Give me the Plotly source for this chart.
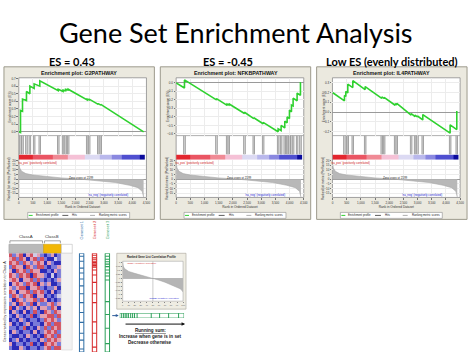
import plotly.graph_objects as go

W, H = 474, 355

# ---------------- data ----------------
title_text = "Gene Set Enrichment Analysis"
panel_labels = ["ES = 0.43", "ES = -0.45", "Low ES (evenly distributed)"]
panel_titles = ["Enrichment plot: G2PATHWAY", "Enrichment plot: NFKBPATHWAY", "Enrichment plot: IL4PATHWAY"]

es1_rank = [0, 60, 60, 130, 130, 270, 270, 390, 390, 540, 540, 740, 740, 1390, 1390, 1560, 1560, 1650, 1650,
            1740, 1740, 2410, 2410, 2480, 2480, 2800, 2800, 2890, 2890, 4400]
es1_val = [0.0, -0.01, 0.28, 0.27, 0.43, 0.41, 0.53, 0.50, 0.60, 0.57, 0.63, 0.60, 0.67, 0.54, 0.56, 0.53, 0.55,
           0.54, 0.56, 0.55, 0.56, 0.42, 0.43, 0.42, 0.43, 0.36, 0.37, 0.35, 0.36, 0.0]
hits1 = [60, 130, 270, 390, 540, 740, 1390, 1560, 1650, 1740, 2410, 2480, 2800, 2890]

es2_rank = [0, 294, 294, 1422, 1422, 1798, 1798, 1857, 1857, 2409, 2409, 2738, 2738, 3067, 3067, 3596, 3596,
            3701, 3701, 3830, 3830, 3913, 3913, 3995, 3995, 4066, 4066, 4124, 4124, 4265, 4265, 4383, 4383, 4400]
es2_val = [0.0, -0.06, 0.035, -0.2, -0.185, -0.265, -0.25, -0.26, -0.245, -0.36, -0.345, -0.42, -0.41, -0.48,
           -0.465, -0.575, -0.54, -0.56, -0.50, -0.53, -0.45, -0.47, -0.40, -0.42, -0.32, -0.34, -0.26, -0.27,
           -0.18, -0.21, -0.12, -0.145, 0.0, 0.0]
hits2 = [294, 1422, 1798, 1857, 2409, 2738, 3067, 3596, 3701, 3830, 3913, 3995, 4066, 4124, 4265, 4383]

es3_rank = [0, 423, 423, 470, 470, 540, 540, 717, 717, 1152, 1152, 1739, 1739, 1821, 1821, 2209, 2209, 2268,
            2268, 2773, 2773, 2914, 2914, 2996, 2996, 3184, 3184, 4148, 4148, 4383, 4383]
es3_val = [0.20, 0.115, 0.17, 0.16, 0.21, 0.195, 0.285, 0.25, 0.32, 0.23, 0.26, 0.14, 0.155, 0.14, 0.15, 0.07,
           0.085, 0.075, 0.09, -0.03, -0.015, -0.045, -0.03, -0.05, -0.04, -0.08, -0.025, -0.215, -0.13, -0.178, 0.01]
hits3 = [423, 470, 540, 717, 1152, 1739, 1821, 2209, 2268, 2773, 2914, 2996, 3184, 4148, 4383]

es_ticks = [[0.0, 0.1, 0.2, 0.3, 0.4, 0.5, 0.6, 0.7],
            [0.0, -0.1, -0.2, -0.3, -0.4, -0.5, -0.6],
            [0.3, 0.2, 0.1, 0.0, -0.1, -0.2]]

metric_rank = [0, 30, 100, 250, 500, 1000, 1500, 2199, 2800, 3400, 3900, 4200, 4350, 4400]
metric_val = [18, 12, 8.5, 6, 4.5, 2.8, 1.4, 0, -1.5, -3.5, -6.5, -9, -13, -19]
metric_ticks = [20, 15, 10, 5, 0, -5, -10, -15]

rank_ticks = [0, 500, 1000, 1500, 2000, 2500, 3000, 3500, 4000, 4500]
rank_labels = ["0", "500", "1,000", "1,500", "2,000", "2,500", "3,000", "3,500", "4,000", "4,500"]

bar_edges = [0, 505, 1210, 1739, 2327, 2855, 3267, 3619, 4265, 4450]
bar_colors = ['#e3262f', '#ea5563', '#f08a95', '#f5c1d6', '#dcdaf3', '#b9b8ec', '#8a88e0', '#4f4fd0', '#0b0b9c']

# hand-read expression heatmap (-2 blue .. 2 red); 10 ClassA columns + 5 ClassB columns
heat_grid = [
    [2, -1, 1, 2, -2, 1, 2, 0, 1, -1, -2, -1, 1, -2, -1],
    [1, 2, -1, 2, 1, -2, 1, 2, -1, 2, -1, -2, -2, 0, -1],
    [2, 1, 2, -1, 2, 1, -1, 1, 2, 1, -2, 1, -1, -2, -2],
    [-1, 2, 1, 1, -2, 2, 1, -1, 2, 2, -1, -2, -1, -1, 1],
    [1, -2, 2, 1, 2, -1, 2, 1, 1, -2, -2, -1, -2, 1, -1],
    [2, 1, -1, 2, 1, 2, -2, 2, 1, 1, -1, -2, 0, -2, -1],
    [1, 2, 1, -2, 1, 1, 2, -1, 2, -1, -2, -1, -2, -1, 1],
    [-2, 1, 2, 1, -1, 2, 1, 2, -2, 1, -1, 1, -2, -2, -1],
    [1, -1, 1, 2, 2, -2, 1, 1, 2, -1, -2, -1, -1, 1, -2],
    [2, 1, -2, 1, 1, 2, -1, 2, 1, 2, -1, -2, 1, -2, -1],
    [-1, 2, 1, -1, 2, 1, 2, -2, 1, 1, -2, -1, -2, -1, 0],
    [1, -2, 2, 1, -1, 1, 1, 2, -1, 2, 1, -2, -1, -2, -1],
    [-1, 1, -2, 2, 1, -1, 2, -2, 1, -1, -1, 1, 2, -1, 1],
    [2, -2, 1, -1, -2, 1, -1, 1, -2, 1, 1, -1, 2, 1, -2],
    [-2, 1, -1, -2, 1, -2, -1, 2, -1, -2, 2, 1, -1, 2, 1],
    [-1, -2, 1, -1, -2, -1, 2, -2, -1, 1, 1, 2, 2, -1, 2],
    [-2, -1, -2, 1, -1, -2, -1, -1, -2, -1, 2, 1, 2, 1, -1],
    [1, -2, -1, -2, -1, 1, -2, -1, -1, -2, 1, 2, -1, 2, 2],
    [-1, -1, -2, -1, 2, -2, -1, -2, 1, -1, 2, -1, 2, 1, 2],
    [-2, 1, -1, -2, -1, -1, -2, 1, -2, -1, 1, 2, 1, 2, -1],
    [-1, -2, -2, -1, -2, 1, -1, -2, -1, -2, 2, 1, 2, -1, 2],
    [-2, -1, 1, -2, -1, -2, -1, -1, -2, 1, -1, 2, 1, 2, 1],
    [1, -2, -1, -1, -2, -1, 2, -2, -1, -2, 2, 1, 2, 1, -1],
    [-1, -2, -2, 1, -1, -2, -1, -1, -2, -1, 1, 2, -1, 2, 2],
]
class_labels = ["ClassA", "ClassB"]

geneset_names = ["Geneset 1", "Geneset 2", "Geneset 3"]
geneset_colors = ['#2e6da4', '#d62728', '#2ca05a']
geneset_hits = [
    [3, 8, 15, 20, 26, 33, 41, 50, 60, 70, 81, 88, 97],
    [2, 4.5, 6, 8, 9.5, 11, 12.5, 14, 17, 22, 29.5, 41, 50, 69.5, 81, 95],
    [3, 6, 8.5, 11, 13.5, 17, 20, 23, 27, 49, 62, 76, 91.5],
]

mini_x = [0, 1, 3, 6, 10, 20, 30, 40, 50, 60, 70, 80, 90, 95, 98, 100]
mini_val = [1.0, 0.75, 0.6, 0.5, 0.42, 0.3, 0.2, 0.1, 0.0, -0.12, -0.25, -0.4, -0.55, -0.65, -0.75, -0.85]

running_sum_text = ["Running sum:", "Increase when gene is in set", "Decrease otherwise"]

# ---------------- helpers ----------------
SLIDE_FONT = "Lato"
PLOT_FONT = "Liberation Sans"


def px(x):
    return x / W


def py(y):
    return 1 - y / H


fig = go.Figure()
axes = {}
shapes = []
anns = []
count = [0]


def new_axes(x0, x1, y0, y1, xcfg=None, ycfg=None):
    count[0] += 1
    s = '' if count[0] == 1 else str(count[0])
    base = dict(showgrid=False, zeroline=False, showticklabels=False, ticks='', showline=False, fixedrange=True)
    xc = dict(base, domain=[px(x0), px(x1)], anchor='y' + s)
    yc = dict(base, domain=[py(y1), py(y0)], anchor='x' + s)
    if xcfg:
        xc.update(xcfg)
    if ycfg:
        yc.update(ycfg)
    axes['xaxis' + s] = xc
    axes['yaxis' + s] = yc
    return 'x' + s, 'y' + s


def rect(x0, y0, x1, y1, fill, line='rgba(0,0,0,0)', lw=1):
    shapes.append(dict(type='rect', xref='paper', yref='paper', x0=px(x0), x1=px(x1), y0=py(y1), y1=py(y0),
                       fillcolor=fill, line=dict(color=line, width=lw), layer='below'))


def hline(x0, x1, y, color, lw=1):
    shapes.append(dict(type='line', xref='paper', yref='paper', x0=px(x0), x1=px(x1), y0=py(y), y1=py(y),
                       line=dict(color=color, width=lw), layer='below'))


def text(x, y, t, size, color='#000', bold=False, family=PLOT_FONT, xanchor='center', angle=0):
    if bold:
        t = '<b>' + t + '</b>'
    anns.append(dict(x=px(x), y=py(y), xref='paper', yref='paper', text=t, showarrow=False,
                     font=dict(size=size, color=color, family=family), xanchor=xanchor, yanchor='middle',
                     textangle=angle))


def segs(positions, a, b, vertical=True):
    xs, ys = [], []
    for p in positions:
        if vertical:
            xs += [p, p, None]
            ys += [a, b, None]
        else:
            xs += [a, b, None]
            ys += [p, p, None]
    return xs, ys


# ---------------- title ----------------
text(237, 31.5, title_text, 27, '#000', family=SLIDE_FONT)

# ---------------- three GSEA panels ----------------
frame_left = [3, 161, 319]
plot_left = [18, 177, 335]
es_data = [(es1_rank, es1_val, hits1), (es2_rank, es2_val, hits2), (es3_rank, es3_val, hits3)]
es_ranges = [[-0.05, 0.71], [-0.62, 0.06], [-0.24, 0.35]]
label_x = [72, 229, 395]

for i in range(3):
    fl = frame_left[i]
    pl = plot_left[i]
    pr = pl + 129
    rect(fl, 66, fl + 152, 219, '#ebe9df', '#9d9a8c', 1)
    rect(pl, 77, pr, 197, '#ffffff', '#8c8c8c', 0.8)
    hline(pl, pr, 135, '#9a9a9a', 0.8)
    text(label_x[i], 61, panel_labels[i], 11, '#000', bold=True, family=SLIDE_FONT)
    text(fl + 76, 72.3, panel_titles[i], 5.3, '#111', bold=True)
    text(pl - 9, 106, "Enrichment score (ES)", 3.1, '#333', angle=-90)
    text(pl - 9, 178, "Ranked list metric (PreRanked)", 3.1, '#333', angle=-90)

    rk, vals, hits = es_data[i]
    # ES
    xa, ya = new_axes(pl, pr, 77, 135,
                      dict(range=[0, 4500], showgrid=True, gridcolor='#ececec', gridwidth=0.5, tickvals=rank_ticks),
                      dict(range=es_ranges[i], tickvals=es_ticks[i], tickformat='.1f', showticklabels=True,
                           tickfont=dict(size=3.1, color='#333', family=PLOT_FONT), ticks='outside', ticklen=1.5,
                           tickcolor='#777', showgrid=True, gridcolor='#ececec', gridwidth=0.5,
                           zeroline=True, zerolinecolor='#9a9a9a', zerolinewidth=0.8))
    fig.add_trace(go.Scatter(x=rk, y=vals, mode='lines', line=dict(color='#2fd12f', width=1.6),
                             xaxis=xa, yaxis=ya, hoverinfo='skip'))
    # hits
    xa, ya = new_axes(pl, pr, 135, 154, dict(range=[0, 4500]), dict(range=[0, 1]))
    hx, hy = segs(hits, 0.0, 1.0)
    fig.add_trace(go.Scatter(x=hx, y=hy, mode='lines', line=dict(color='#8a8a8a', width=2.4),
                             xaxis=xa, yaxis=ya, hoverinfo='skip'))
    fig.add_trace(go.Scatter(x=hx, y=hy, mode='lines', line=dict(color='#c9c9c9', width=1.2),
                             xaxis=xa, yaxis=ya, hoverinfo='skip'))
    # colour bar
    xa, ya = new_axes(pl, pr, 154, 159.5, dict(range=[0, 4500]), dict(range=[0, 1]))
    n = len(bar_colors)
    cscale = [[k / (n - 1), c] for k, c in enumerate(bar_colors)]
    fig.add_trace(go.Heatmap(x=bar_edges, y=[0, 1], z=[list(range(n))], zmin=0, zmax=n - 1,
                             colorscale=cscale, showscale=False, xaxis=xa, yaxis=ya, hoverinfo='skip'))
    # ranked list metric
    xa, ya = new_axes(pl, pr, 159.5, 197,
                      dict(range=[0, 4500], tickvals=rank_ticks, ticktext=rank_labels, showticklabels=True,
                           tickfont=dict(size=3, color='#333', family=PLOT_FONT), ticks='outside', ticklen=1.5,
                           tickcolor='#777', showgrid=True, gridcolor='#ececec', gridwidth=0.5,
                           title=dict(text="Rank in Ordered Dataset", font=dict(size=3.2, color='#333',
                                                                                 family=PLOT_FONT), standoff=1)),
                      dict(range=[-19.5, 20.5], tickvals=metric_ticks, showticklabels=True,
                           tickfont=dict(size=3, color='#333', family=PLOT_FONT), ticks='outside', ticklen=1.5,
                           tickcolor='#777', showgrid=True, gridcolor='#ececec', gridwidth=0.5,
                           zeroline=True, zerolinecolor='#9a9a9a', zerolinewidth=0.6))
    fig.add_trace(go.Scatter(x=metric_rank, y=metric_val, mode='lines', fill='tozeroy', fillcolor='#b8b8b8',
                             line=dict(color='#a8a8a8', width=0.6), xaxis=xa, yaxis=ya, hoverinfo='skip'))
    anns.append(dict(x=650, y=17, xref=xa, yref=ya, text="'na_pos' (positively correlated)", showarrow=False,
                     font=dict(size=2.9, color='#d02020', family=PLOT_FONT)))
    anns.append(dict(x=2199, y=1.8, xref=xa, yref=ya, text="Zero cross at 2199", showarrow=False,
                     font=dict(size=2.9, color='#222', family=PLOT_FONT)))
    anns.append(dict(x=3150, y=-16.5, xref=xa, yref=ya, text="'na_neg' (negatively correlated)",
                     showarrow=False, font=dict(size=2.9, color='#2020d0', family=PLOT_FONT)))

    # legend box
    rect(fl + 24, 212, fl + 127, 218, '#ffffff', '#8c8c8c', 0.6)
    hline(fl + 25, fl + 29, 215, '#2fd12f', 1)
    text(fl + 30, 215, "Enrichment profile", 2.8, '#222', xanchor='left')
    hline(fl + 59, fl + 65, 215, '#333', 0.8)
    text(fl + 67, 215, "Hits", 2.8, '#222', xanchor='left')
    hline(fl + 87, fl + 92, 215, '#999', 0.8)
    text(fl + 94, 215, "Ranking metric scores", 2.8, '#222', xanchor='left')

# ---------------- bottom-left diagram ----------------
rect(8, 244, 43, 253, '#b9b9b9', '#9a9a9a', 0.5)
rect(43, 244, 61, 253, '#f2b705', '#c89a00', 0.5)
rect(61, 244, 72, 253, '#ffffff', '#b0b0b0', 0.5)
rect(61, 253, 72, 350, '#f2f2f2', '#cfcfcf', 0.5)
text(25.5, 236, class_labels[0], 4.3, '#333')
text(52, 236, class_labels[1], 4.3, '#333')
for a, b in [(9, 42), (44, 60)]:
    hline(a, b, 240.5, '#666', 0.6)
    for e in (a, b):
        shapes.append(dict(type='line', xref='paper', yref='paper', x0=px(e), x1=px(e), y0=py(240.5),
                           y1=py(243), line=dict(color='#666', width=0.6)))
text(4, 301, "Genes ranked by expression correlation to Class A", 3.6, '#333', angle=-90)

xa, ya = new_axes(8, 61, 253, 350, dict(range=[-0.5, 14.5]), dict(range=[23.5, -0.5]))
fig.add_trace(go.Heatmap(z=heat_grid, zmin=-2, zmax=2, showscale=False, xaxis=xa, yaxis=ya, hoverinfo='skip',
                         colorscale=[[0, '#2b2bb8'], [0.25, '#7a7ad8'], [0.5, '#cfcbe8'], [0.75, '#e2a0b2'],
                                     [1, '#d2505e']]))

# gene sets
xa, ya = new_axes(75, 114, 253, 352, dict(range=[0, 3]), dict(range=[100, 0]))
for k in range(3):
    c = k + 0.5
    shapes.append(dict(type='rect', xref=xa, yref=ya, x0=c - 0.17, x1=c + 0.17, y0=0, y1=100,
                       fillcolor='#ffffff', line=dict(color=geneset_colors[k], width=1), layer='below'))
    gx, gy = segs(geneset_hits[k], c - 0.17, c + 0.17, vertical=False)
    fig.add_trace(go.Scatter(x=gx, y=gy, mode='lines', line=dict(color=geneset_colors[k], width=1.1),
                             xaxis=xa, yaxis=ya, hoverinfo='skip'))
    anns.append(dict(x=c, y=py(241), xref=xa, yref='paper', text=geneset_names[k], showarrow=False,
                     textangle=-90, font=dict(size=4, color=geneset_colors[k], family=PLOT_FONT)))

# mini correlation profile
rect(117, 253, 187, 309, '#efede3', '#a8a599', 0.6)
rect(123, 261, 184, 301, '#ffffff', '#999', 0.5)
text(152, 257, "Ranked Gene List Correlation Profile", 2.8, '#222', bold=True)
xa, ya = new_axes(123, 184, 261, 301,
                  dict(range=[0, 100], tickvals=[0, 10, 20, 30, 40, 50, 60, 70, 80, 90, 100], showticklabels=True,
                       tickfont=dict(size=2.2, color='#555'), ticks='outside', ticklen=1, tickcolor='#888'),
                  dict(range=[-1.42, 1.05], tickvals=[1, 0.75, 0.5, 0.25, 0, -0.25, -0.5, -0.75, -1, -1.25],
                       showticklabels=True, tickfont=dict(size=2.2, color='#555'), ticks='outside', ticklen=1,
                       tickcolor='#888', zeroline=True, zerolinecolor='#bbb', zerolinewidth=0.5))
fig.add_trace(go.Scatter(x=mini_x, y=mini_val, mode='lines', fill='tozeroy', fillcolor='#b5b5b5',
                         line=dict(color='#a5a5a5', width=0.5), xaxis=xa, yaxis=ya, hoverinfo='skip'))
shapes.append(dict(type='line', xref=xa, yref=ya, x0=50, x1=50, y0=-1.42, y1=1.05,
                   line=dict(color='#999', width=0.5)))
anns.append(dict(x=3, y=0.95, xref=xa, yref=ya, text="'ClassA' (positively correlated)", showarrow=False,
                 xanchor='left', font=dict(size=2.2, color='#d02020')))
anns.append(dict(x=97, y=-1.25, xref=xa, yref=ya, text="'ClassB' (negatively correlated)", showarrow=False,
                 xanchor='right', font=dict(size=2.2, color='#2020d0')))

# running-sum strip
xa, ya = new_axes(120, 185, 313, 318, dict(range=[0, 100]), dict(range=[0, 1]))
shapes.append(dict(type='rect', xref=xa, yref=ya, x0=0, x1=100, y0=0, y1=1, fillcolor='#ffffff',
                   line=dict(color=geneset_colors[2], width=0.9), layer='below'))
sx, sy = segs(geneset_hits[2], 0, 1)
fig.add_trace(go.Scatter(x=sx, y=sy, mode='lines', line=dict(color=geneset_colors[2], width=1),
                         xaxis=xa, yaxis=ya, hoverinfo='skip'))
anns.append(dict(x=px(119), y=py(315.5), xref='paper', yref='paper', axref='pixel', ayref='pixel',
                 ax=-8, ay=0, text='', showarrow=True, arrowhead=2, arrowsize=0.6, arrowwidth=1,
                 arrowcolor='#2e5d9a'))
anns.append(dict(x=px(186), y=py(324), xref='paper', yref='paper', axref='pixel', ayref='pixel',
                 ax=-61, ay=0, text='', showarrow=True, arrowhead=2, arrowsize=0.7, arrowwidth=1,
                 arrowcolor='#111'))
text(151, 330, '<u>' + running_sum_text[0] + '</u>', 4.6, '#222', bold=True)
text(151, 336, running_sum_text[1], 4.6, '#222', bold=True)
text(151, 342, running_sum_text[2], 4.6, '#222', bold=True)

fig.update_layout(width=W, height=H, margin=dict(l=0, r=0, t=0, b=0), paper_bgcolor='#ffffff',
                  plot_bgcolor='rgba(0,0,0,0)', showlegend=False, shapes=shapes, annotations=anns,
                  font=dict(family=PLOT_FONT), **axes)
fig.write_html("out.html")
